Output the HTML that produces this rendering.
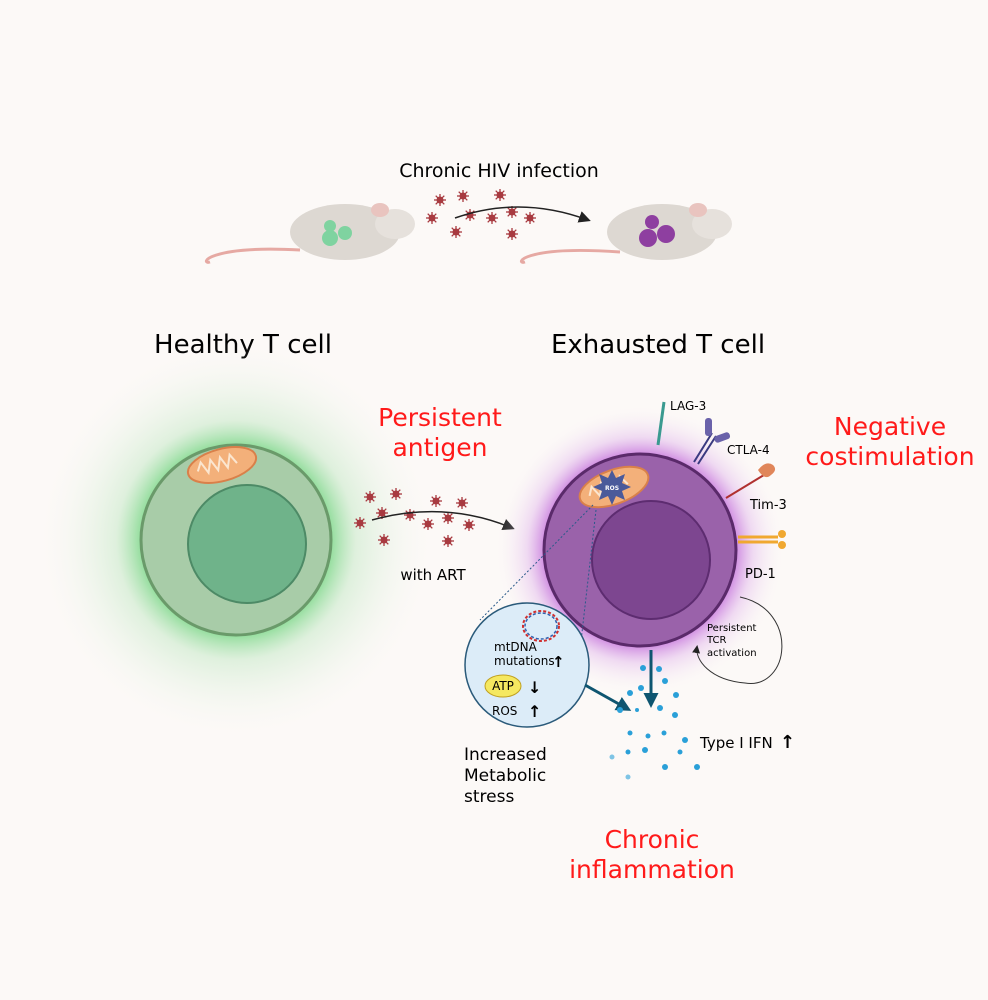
<!DOCTYPE html>
<html><head><meta charset="utf-8"><style>
html,body{margin:0;padding:0;background:#fcf9f7}
svg{display:block}
text{font-family:"DejaVu Sans","Liberation Sans",sans-serif}
</style></head><body>
<svg width="988" height="1000" viewBox="0 0 988 1000" xmlns="http://www.w3.org/2000/svg">
<defs>
<radialGradient id="gg"><stop offset="0.45" stop-color="#5fd070" stop-opacity="0.8"/><stop offset="0.6" stop-color="#a8e0ad" stop-opacity="0.35"/><stop offset="1" stop-color="#fcf9f7" stop-opacity="0"/></radialGradient>
<radialGradient id="pg"><stop offset="0.6" stop-color="#b040d0" stop-opacity="0.9"/><stop offset="0.78" stop-color="#d8a0e8" stop-opacity="0.35"/><stop offset="1" stop-color="#fcf9f7" stop-opacity="0"/></radialGradient>
<marker id="ah" markerWidth="8" markerHeight="8" refX="6" refY="4" orient="auto" markerUnits="strokeWidth"><path d="M0,0 L8,4 L0,8 Z" fill="#222"/></marker>
<marker id="ta" markerWidth="5" markerHeight="5" refX="3" refY="2.5" orient="auto"><path d="M0,0 L5,2.5 L0,5 Z" fill="#0e5570"/></marker>
<g id="vir"><circle r="3.5" fill="#a83a40"/><g stroke="#a83a40" stroke-width="1.3"><line x1="-6" y1="0" x2="6" y2="0"/><line x1="0" y1="-6" x2="0" y2="6"/><line x1="-4.3" y1="-4.3" x2="4.3" y2="4.3"/><line x1="-4.3" y1="4.3" x2="4.3" y2="-4.3"/></g></g>
</defs>

<text x="499" y="177" font-size="19" text-anchor="middle">Chronic HIV infection</text>
<!-- left mouse -->
<path d="M300,250 C205,245 200,265 210,262" stroke="#e6a9a3" stroke-width="3" fill="none"/>
<ellipse cx="345" cy="232" rx="55" ry="28" fill="#ddd8d2"/>
<ellipse cx="395" cy="224" rx="20" ry="15" fill="#e6e1dc"/>
<ellipse cx="380" cy="210" rx="9" ry="7" fill="#e9c4bf"/>
<circle cx="330" cy="238" r="8" fill="#7fd3a0"/><circle cx="345" cy="233" r="7" fill="#7fd3a0"/><circle cx="330" cy="226" r="6" fill="#7fd3a0"/>
<!-- right mouse -->
<path d="M620,252 C520,245 515,265 525,262" stroke="#e6a9a3" stroke-width="3" fill="none"/>
<ellipse cx="662" cy="232" rx="55" ry="28" fill="#ddd8d2"/>
<ellipse cx="712" cy="224" rx="20" ry="15" fill="#e6e1dc"/>
<ellipse cx="698" cy="210" rx="9" ry="7" fill="#e9c4bf"/>
<circle cx="648" cy="238" r="9" fill="#8e3fa0"/><circle cx="666" cy="234" r="9" fill="#8e3fa0"/><circle cx="652" cy="222" r="7" fill="#8e3fa0"/>
<!-- top viruses & arrow -->
<use href="#vir" x="440" y="200"/><use href="#vir" x="463" y="196"/><use href="#vir" x="500" y="195"/><use href="#vir" x="432" y="218"/><use href="#vir" x="456" y="232"/><use href="#vir" x="470" y="215"/><use href="#vir" x="512" y="212"/><use href="#vir" x="530" y="218"/><use href="#vir" x="512" y="234"/><use href="#vir" x="492" y="218"/>
<path d="M455,218 Q520,195 588,220" stroke="#222" stroke-width="1.5" fill="none" marker-end="url(#ah)"/>

<text x="243" y="353" font-size="26" text-anchor="middle">Healthy T cell</text>
<text x="658" y="353" font-size="26" text-anchor="middle">Exhausted T cell</text>

<!-- healthy cell -->
<circle cx="236" cy="540" r="200" fill="url(#gg)"/>
<circle cx="236" cy="540" r="95" fill="#a8cca8" stroke="#6a9a6a" stroke-width="3"/>
<circle cx="247" cy="544" r="59" fill="#6fb38a" stroke="#4d8a66" stroke-width="2"/>
<g transform="translate(222,465) rotate(-15)"><ellipse rx="35" ry="16" fill="#f3b07a" stroke="#d9804a" stroke-width="2"/><path d="M-25,0 l5,-8 l5,12 l5,-12 l5,12 l5,-12 l5,12 l5,-12 l5,10" stroke="#fbe6d0" stroke-width="2" fill="none"/></g>

<text x="440" y="426" font-size="25" fill="#ff1a1a" text-anchor="middle">Persistent</text>
<text x="440" y="456" font-size="25" fill="#ff1a1a" text-anchor="middle">antigen</text>
<use href="#vir" x="370" y="497"/><use href="#vir" x="396" y="494"/><use href="#vir" x="436" y="501"/><use href="#vir" x="462" y="503"/><use href="#vir" x="360" y="523"/><use href="#vir" x="382" y="513"/><use href="#vir" x="410" y="515"/><use href="#vir" x="428" y="524"/><use href="#vir" x="448" y="518"/><use href="#vir" x="469" y="525"/><use href="#vir" x="384" y="540"/><use href="#vir" x="448" y="541"/>
<path d="M372,520 Q445,500 512,528" stroke="#222" stroke-width="1.5" fill="none" marker-end="url(#ah)"/>
<text x="433" y="580" font-size="15" text-anchor="middle">with ART</text>

<!-- exhausted cell -->
<circle cx="640" cy="550" r="145" fill="url(#pg)"/>
<circle cx="640" cy="550" r="96" fill="#9a62aa" stroke="#5a2a6a" stroke-width="3"/>
<circle cx="651" cy="560" r="59" fill="#7d4690" stroke="#5d2c70" stroke-width="2"/>
<g transform="translate(614,487) rotate(-20)"><ellipse rx="36" ry="17" fill="#f3b07a" stroke="#d9804a" stroke-width="2"/><path d="M-26,0 l5,-8 l5,12 l5,-12 l5,12 l5,-12 l5,12 l5,-12 l5,10" stroke="#fbe6d0" stroke-width="2" fill="none"/></g>
<polygon points="612,470 616,478 625,474 622,483 631,487 622,491 625,500 616,496 612,505 608,496 599,500 602,491 593,487 602,483 599,474 608,478" fill="#4a5a9a"/>
<text x="612" y="490" font-size="6" fill="#fff" text-anchor="middle" font-weight="bold">ROS</text>
<!-- receptors -->
<line x1="658" y1="445" x2="664" y2="402" stroke="#3a9a90" stroke-width="3"/>
<text x="670" y="410" font-size="12">LAG-3</text>
<path d="M694,462 L712,433 M698,464 L716,436" stroke="#3a3a80" stroke-width="2"/>
<rect x="705" y="418" width="7" height="18" rx="3" fill="#6a62aa"/><rect x="714" y="434" width="16" height="7" rx="3" fill="#6a62aa" transform="rotate(-20 722 437)"/>
<text x="727" y="454" font-size="12">CTLA-4</text>
<line x1="726" y1="498" x2="764" y2="475" stroke="#b03030" stroke-width="2"/>
<path d="M758,470 q8,-10 15,-5 q5,5 -2,10 q-6,6 -13,-5z" fill="#e0865a"/>
<text x="750" y="509" font-size="13">Tim-3</text>
<path d="M738,537 L778,537 M738,542 L778,542" stroke="#f0a830" stroke-width="3"/>
<circle cx="782" cy="534" r="4" fill="#f0a830"/><circle cx="782" cy="545" r="4" fill="#f0a830"/>
<text x="745" y="578" font-size="13">PD-1</text>
<text x="890" y="435" font-size="25" fill="#ff1a1a" text-anchor="middle">Negative</text>
<text x="890" y="465" font-size="25" fill="#ff1a1a" text-anchor="middle">costimulation</text>
<path d="M740,597 C800,610 790,690 745,683 C710,680 695,660 697,647" stroke="#333" stroke-width="1" fill="none" marker-end="url(#ah)"/>
<text x="707" y="631" font-size="10">Persistent</text>
<text x="707" y="643" font-size="10">TCR</text>
<text x="707" y="656" font-size="10">activation</text>

<!-- inset -->
<path d="M593,505 L480,620 M596,510 L580,650" stroke="#2a5a8a" stroke-width="1" stroke-dasharray="2,2"/>
<circle cx="527" cy="665" r="62" fill="#dcecf8" stroke="#2a5a7a" stroke-width="1.5"/>
<ellipse cx="541" cy="626" rx="18" ry="15" fill="none" stroke="#d03030" stroke-width="2" stroke-dasharray="3,2"/>
<ellipse cx="541" cy="626" rx="16" ry="13" fill="none" stroke="#3060b0" stroke-width="1.5" stroke-dasharray="3,2"/>
<text x="494" y="651" font-size="12">mtDNA</text>
<text x="494" y="665" font-size="12">mutations</text>
<text x="552" y="667" font-size="15" font-weight="bold">↑</text>
<ellipse cx="503" cy="686" rx="18" ry="11" fill="#f5e860" stroke="#c0a020"/>
<text x="503" y="690" font-size="12" text-anchor="middle">ATP</text>
<text x="528" y="693" font-size="16" font-weight="bold">↓</text>
<text x="492" y="715" font-size="12">ROS</text>
<text x="528" y="717" font-size="16" font-weight="bold">↑</text>
<text x="464" y="760" font-size="17">Increased</text>
<text x="464" y="781" font-size="17">Metabolic</text>
<text x="464" y="802" font-size="17">stress</text>

<!-- arrows -->
<line x1="585" y1="685" x2="626" y2="708" stroke="#0e5570" stroke-width="3" marker-end="url(#ta)"/>
<line x1="651" y1="650" x2="651" y2="702" stroke="#0e5570" stroke-width="3" marker-end="url(#ta)"/>
<g fill="#2aa0d8">
<circle cx="643" cy="668" r="3"/><circle cx="659" cy="669" r="3"/><circle cx="665" cy="681" r="3"/><circle cx="630" cy="693" r="3"/><circle cx="641" cy="688" r="3"/><circle cx="676" cy="695" r="3"/><circle cx="620" cy="710" r="3"/><circle cx="637" cy="710" r="2"/><circle cx="660" cy="708" r="3"/><circle cx="675" cy="715" r="3"/><circle cx="630" cy="733" r="2.5"/><circle cx="648" cy="736" r="2.5"/><circle cx="664" cy="733" r="2.5"/><circle cx="685" cy="740" r="3"/><circle cx="612" cy="757" r="2.5" opacity="0.6"/><circle cx="628" cy="752" r="2.5"/><circle cx="645" cy="750" r="3"/><circle cx="680" cy="752" r="2.5"/><circle cx="665" cy="767" r="3"/><circle cx="697" cy="767" r="3"/><circle cx="628" cy="777" r="2.5" opacity="0.6"/>
</g>
<text x="700" y="748" font-size="15">Type I IFN</text>
<text x="780" y="748" font-size="18" font-weight="bold">↑</text>
<text x="652" y="848" font-size="25" fill="#ff1a1a" text-anchor="middle">Chronic</text>
<text x="652" y="878" font-size="25" fill="#ff1a1a" text-anchor="middle">inflammation</text>
</svg>
</body></html>
